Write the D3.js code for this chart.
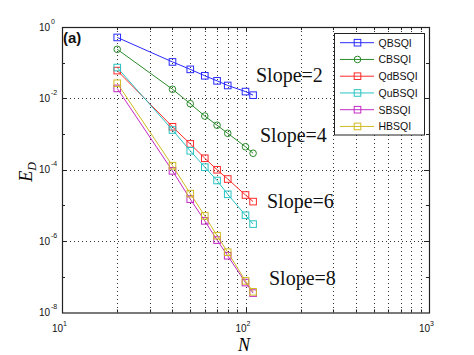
<!DOCTYPE html>
<html><head><meta charset="utf-8">
<script src="https://cdn.jsdelivr.net/npm/d3@7"></script>
<style>body{margin:0;background:#fff}svg{display:block}</style>
</head><body>
<svg id="c" width="474" height="355"></svg>
<script>
const N = [20, 40, 50, 60, 70, 80, 100, 110];
const seriesNames = ["QBSQI", "CBSQI", "QdBSQI", "QuBSQI", "SBSQI", "HBSQI"];
const QBSQI  = [0.51, 0.105, 0.065, 0.043, 0.031, 0.023, 0.0155, 0.0123];
const CBSQI  = [0.237, 0.018, 0.0071, 0.0032, 0.00177, 0.00105, 4.4e-4, 2.9e-4];
const QdBSQI = [0.06, 0.0016, 5.3e-4, 2.1e-4, 1.0e-4, 5.5e-5, 1.96e-5, 1.28e-5];
const QuBSQI = [0.073, 0.0013, 3.4e-4, 1.18e-4, 5e-5, 2.05e-5, 5.3e-6, 3.0e-6];
const SBSQI  = [0.019, 9.3e-5, 1.5e-5, 3.7e-6, 1.07e-6, 3.9e-7, 6.9e-8, 3.5e-8];
const HBSQI  = [0.0265, 1.3e-4, 2.14e-5, 5.1e-6, 1.42e-6, 4.9e-7, 7.7e-8, 3.8e-8];
const xTickExps = [1, 2, 3];
const yTickExps = [0, -2, -4, -6, -8];
const slopeLabels = ["Slope=2", "Slope=4", "Slope=6", "Slope=8"];

const seriesValues = [QBSQI, CBSQI, QdBSQI, QuBSQI, SBSQI, HBSQI];
const colors = ["#2a2aff", "#2a8a2a", "#ff2a2a", "#2ac4c4", "#c42ac4", "#cfbb22"];
const shapes = ["square", "circle", "square", "square", "square", "square"];

const svg = d3.select("#c");
const L = 62, R = 429, T = 27, B = 312.5;
const x = d3.scaleLog().domain([10, 1000]).range([L, R]);
const y = d3.scaleLog().domain([1e-8, 1]).range([B, T]);

// grid
const xMinor = [];
for (let d = 10; d < 1000; d *= 10) for (let k = 1; k < 10; k++) { const v = d * k; if (v > 10 && v < 1000) xMinor.push(v); }
const g = svg.append("g");
g.selectAll("line.gx").data(xMinor).join("line")
  .attr("x1", d => Math.round(x(d)) + 0.5).attr("x2", d => Math.round(x(d)) + 0.5)
  .attr("y1", T).attr("y2", B)
  .attr("stroke", "#333").attr("stroke-width", 1).attr("stroke-dasharray", "1,3");
g.selectAll("line.gy").data(yTickExps.filter(e => e < 0 && e > -8)).join("line")
  .attr("x1", L).attr("x2", R)
  .attr("y1", d => Math.round(y(Math.pow(10, d))) + 0.5).attr("y2", d => Math.round(y(Math.pow(10, d))) + 0.5)
  .attr("stroke", "#333").attr("stroke-width", 1).attr("stroke-dasharray", "1,3");

// ticks (inward)
const tk = svg.append("g").attr("stroke", "#222").attr("stroke-width", 1);
xMinor.concat([100]).forEach(v => {
  const major = (v === 100);
  const len = major ? 5 : 3;
  const px = Math.round(x(v)) + 0.5;
  tk.append("line").attr("x1", px).attr("x2", px).attr("y1", B).attr("y2", B - len);
  tk.append("line").attr("x1", px).attr("x2", px).attr("y1", T).attr("y2", T + len);
});
for (let e = -7; e <= -1; e++) {
  const py = Math.round(y(Math.pow(10, e))) + 0.5;
  const len = (e % 2 === 0) ? 5 : 3;
  tk.append("line").attr("x1", L).attr("x2", L + len).attr("y1", py).attr("y2", py);
  tk.append("line").attr("x1", R).attr("x2", R - len).attr("y1", py).attr("y2", py);
}

// frame
svg.append("rect").attr("x", L + 0.5).attr("y", T + 0.5).attr("width", R - L).attr("height", B - T)
  .attr("fill", "none").attr("stroke", "#222").attr("stroke-width", 1.2);

// tick labels
const lab = svg.append("g").attr("font-family", "Liberation Sans, Arial, sans-serif").attr("fill", "#111");
yTickExps.forEach(e => {
  const py = y(Math.pow(10, e));
  lab.append("text").attr("x", 50).attr("y", py + 3.6).attr("text-anchor", "end").attr("font-size", 10).text("10");
  lab.append("text").attr("x", 51).attr("y", py - 3.5).attr("font-size", 7).text(String(e));
});
xTickExps.forEach(e => {
  const px = x(Math.pow(10, e));
  const t = lab.append("text").attr("x", px - 2.5).attr("y", 331.5).attr("text-anchor", "middle").attr("font-size", 10);
  t.append("tspan").text("10");
  t.append("tspan").attr("dy", -6).attr("font-size", 7).text(String(e));
});

// axis labels
svg.append("text").attr("x", 244).attr("y", 350.8).attr("text-anchor", "middle")
  .attr("font-family", "Liberation Serif, Times New Roman, serif").attr("font-style", "italic").attr("font-size", 18).text("N");
const yl = svg.append("text").attr("transform", "translate(32,172) rotate(-90)").attr("text-anchor", "middle")
  .attr("font-family", "Liberation Serif, Times New Roman, serif").attr("font-style", "italic").attr("font-size", 18);
yl.append("tspan").text("E");
yl.append("tspan").attr("dy", 4).attr("font-size", 12).text("D");

// series
const line = d3.line().x(d => x(d[0])).y(d => y(d[1]));
function marker(sel, shape, color, cx, cy) {
  if (shape === "circle") sel.append("circle").attr("cx", cx).attr("cy", cy).attr("r", 3.3)
    .attr("fill", "none").attr("stroke", color).attr("stroke-width", 1);
  else sel.append("rect").attr("x", cx - 3.3).attr("y", cy - 3.3).attr("width", 6.6).attr("height", 6.6)
    .attr("fill", "none").attr("stroke", color).attr("stroke-width", 1);
}
seriesValues.forEach((vals, i) => {
  const pts = N.map((n, j) => [n, vals[j]]);
  const sg = svg.append("g");
  sg.append("path").attr("d", line(pts)).attr("fill", "none").attr("stroke", colors[i]).attr("stroke-width", 1);
  pts.forEach(p => marker(sg, shapes[i], colors[i], x(p[0]), y(p[1])));
});

// (a)
svg.append("text").attr("x", 63).attr("y", 43).attr("font-family", "Liberation Sans, Arial, sans-serif")
  .attr("font-weight", "bold").attr("font-size", 15).attr("fill", "#111").text("(a)");

// slope labels
const slopePos = [[256, 81.7], [260, 141.7], [267, 208.3], [269, 285]];
slopeLabels.forEach((s, i) => {
  svg.append("text").attr("x", slopePos[i][0]).attr("y", slopePos[i][1])
    .attr("font-family", "Liberation Serif, Times New Roman, serif").attr("font-size", 20).attr("fill", "#111").text(s);
});

// legend
const lg = svg.append("g");
lg.append("rect").attr("x", 334.5).attr("y", 33.5).attr("width", 90).attr("height", 101.5)
  .attr("fill", "#fff").attr("stroke", "#222").attr("stroke-width", 1);
seriesNames.forEach((nm, i) => {
  const ry = 42.7 + i * 16.75;
  lg.append("line").attr("x1", 340).attr("x2", 374).attr("y1", ry).attr("y2", ry).attr("stroke", colors[i]).attr("stroke-width", 1);
  marker(lg, shapes[i], colors[i], 357.5, ry);
  lg.append("text").attr("x", 378.5).attr("y", ry + 3.8).attr("font-family", "Liberation Sans, Arial, sans-serif")
    .attr("font-size", 10.5).attr("fill", "#111").text(nm);
});
</script>
</body></html>
